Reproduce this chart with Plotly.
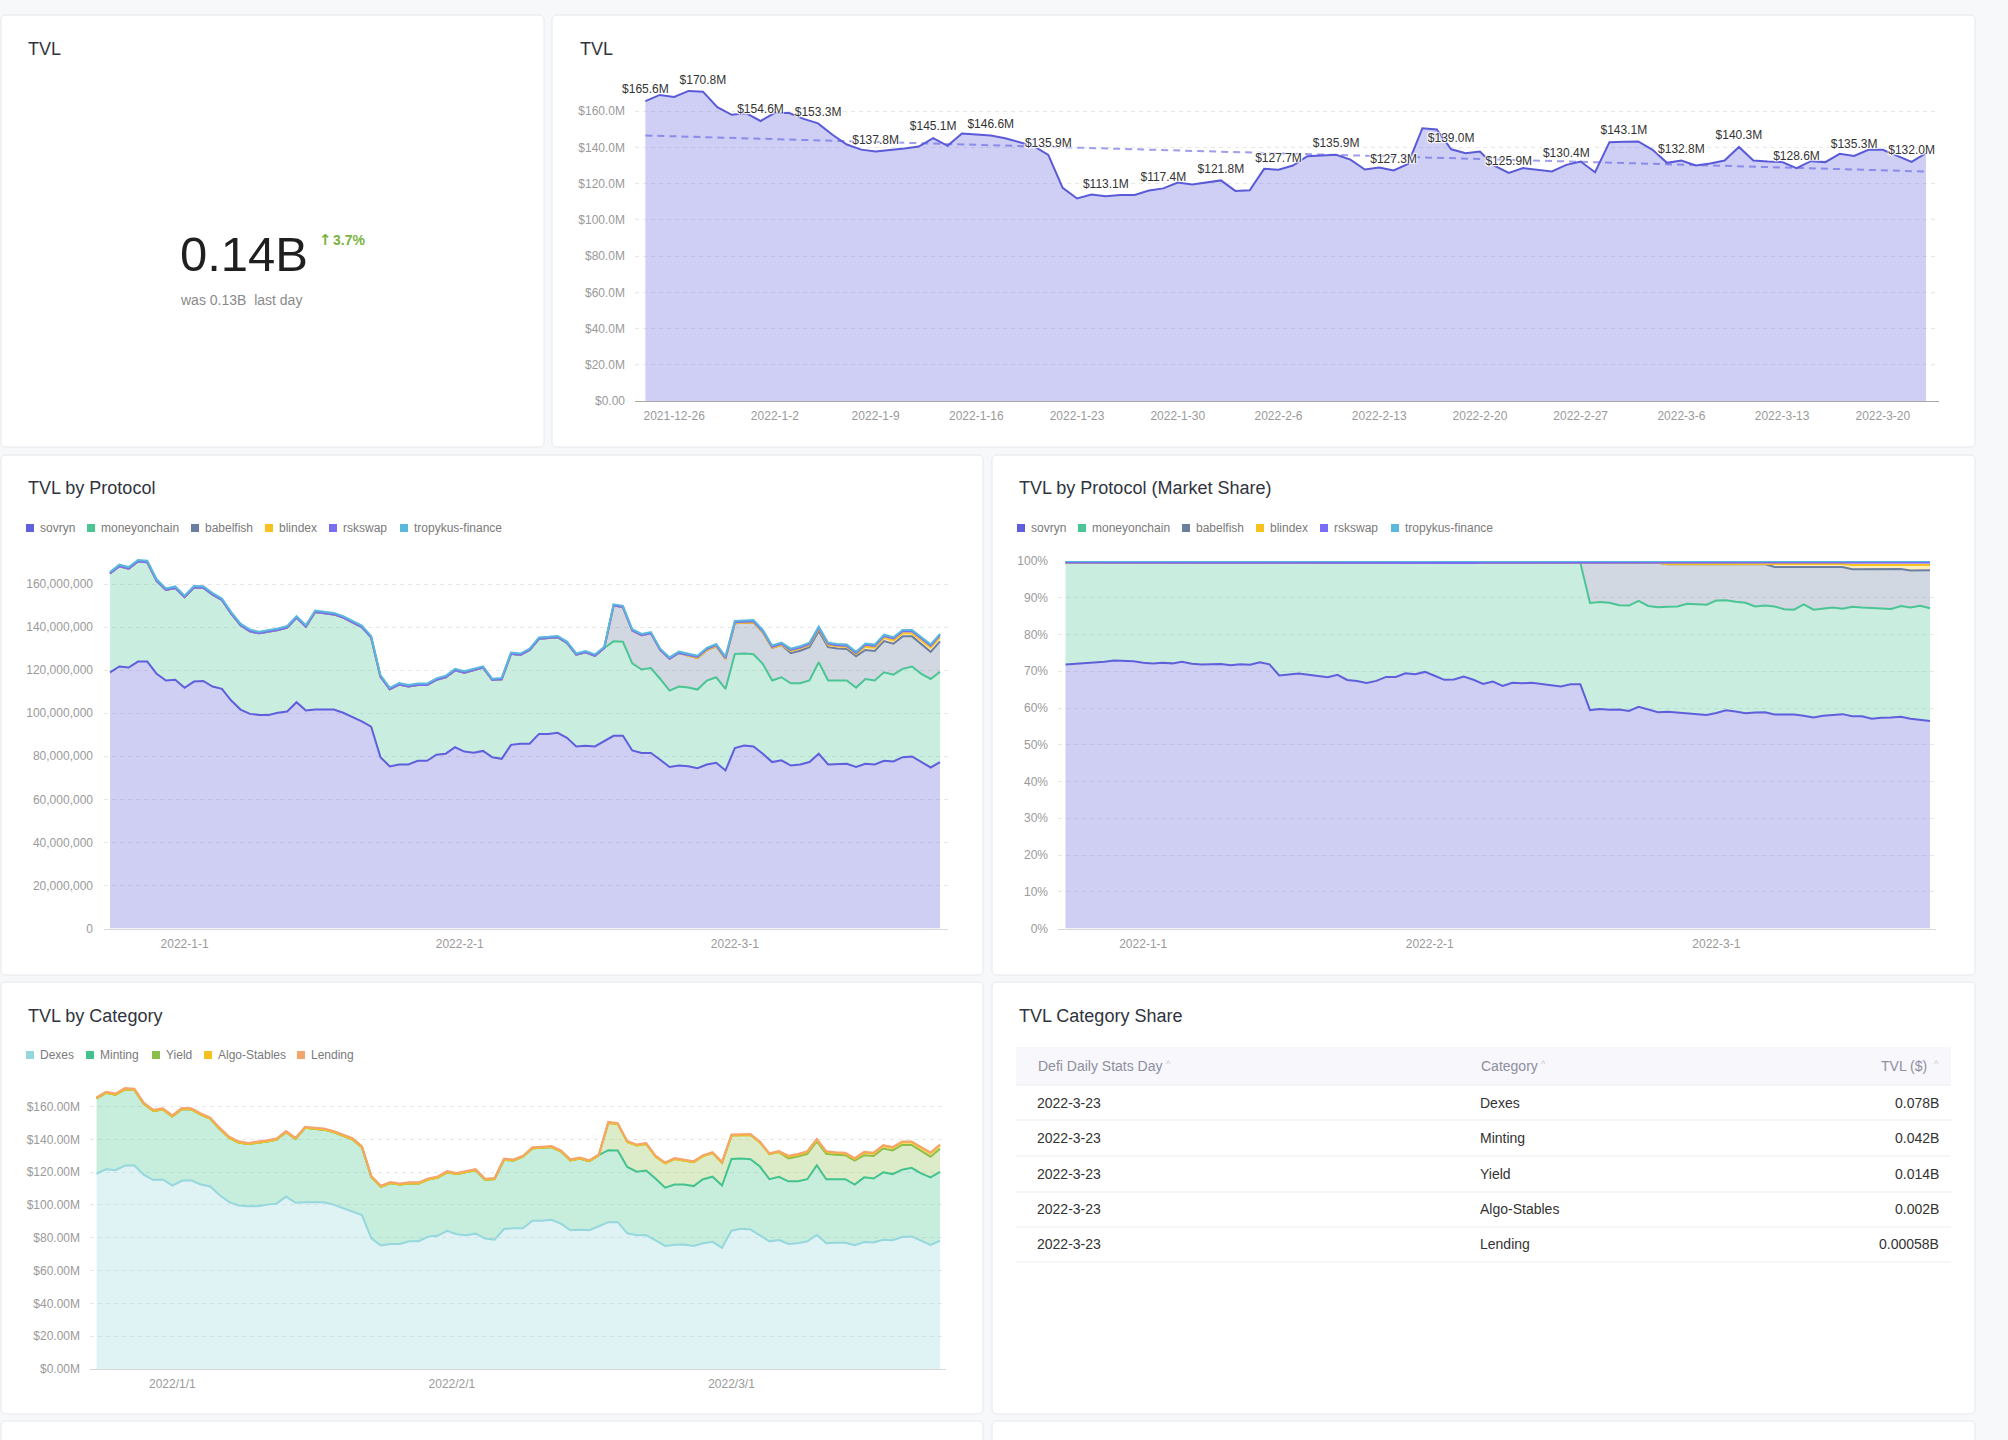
import numpy as np
import pandas as pd
import plotly.graph_objects as go

W, H = 2008, 1440
FONT = "Liberation Sans, Arial, Helvetica, sans-serif"

# ---------------- data ----------------
dates = pd.date_range("2021-12-24", "2022-03-23", freq="D")

# total TVL in $M (Dec 24 .. Mar 23)
tvl_total = [
    165.6, 169.0, 167.9, 171.2, 170.8, 162.2, 158.0, 158.9,
    154.6, 159.1, 159.0, 155.8, 153.3, 147.0, 141.6, 138.8, 137.8, 138.5,
    139.4, 140.5, 145.1, 140.9, 147.7, 147.1, 146.6, 145.1, 142.9, 140.7,
    135.9, 117.7, 111.8, 114.0, 113.1, 113.8, 113.8, 116.2, 117.4, 120.6, 119.5,
    120.6, 121.8, 116.0, 116.4, 128.2, 127.7, 130.0, 135.2, 135.5, 135.9,
    133.3, 127.8, 128.9, 127.3, 130.9, 150.6, 149.9, 139.0, 136.8, 137.7,
    130.0, 125.9, 128.6, 127.8, 126.7, 130.4, 132.2, 126.3,
    142.9, 143.1, 143.3, 138.7, 131.5, 132.8, 130.0, 131.1, 132.8, 140.3,
    132.8, 132.2, 131.9, 128.6, 132.4, 131.9, 136.5, 135.3, 138.7, 138.7,
    135.5, 132.0, 136.9,
]
trend_values = [146.6, 126.7]   # dashed trend line, first and last day

protocol_names = ["sovryn", "moneyonchain", "babelfish", "blindex", "rskswap", "tropykus-finance"]
sovryn = [
    119.0, 121.7, 121.2, 124.0, 124.0, 118.3, 115.2, 115.5,
    111.8, 114.7, 115.0, 112.4, 111.3, 105.9, 101.7, 99.7, 99.2, 99.2,
    100.2, 100.8, 105.1, 101.3, 101.7, 101.7, 101.7, 100.2, 98.2, 96.2,
    93.8, 79.6, 75.3, 76.2, 76.2, 77.9, 77.9, 80.7, 81.2, 84.2, 82.2,
    81.6, 82.5, 79.5, 78.8, 85.3, 85.8, 85.8, 90.4, 90.4, 90.9,
    88.6, 84.6, 84.9, 84.6, 87.0, 89.5, 89.5, 82.7, 81.5, 81.5,
    78.4, 75.0, 75.7, 75.4, 74.5, 76.2, 77.0, 73.4,
    83.8, 85.0, 84.6, 81.2, 77.3, 78.1, 75.7, 76.2, 77.3, 81.2,
    76.2, 76.5, 76.5, 75.0, 76.5, 76.2, 77.9, 77.6, 79.6, 79.9,
    77.3, 74.8, 77.3,
]
moneyonchain = [
    45.9, 46.6, 46.0, 46.5, 46.1, 43.2, 42.1, 42.7,
    42.1, 43.7, 43.3, 42.7, 41.3, 40.4, 39.2, 38.4, 37.9, 38.6,
    38.5, 39.0, 39.3, 38.9, 45.3, 44.7, 44.2, 44.2, 44.0, 43.8,
    41.4, 37.4, 35.8, 37.1, 36.2, 35.2, 35.2, 34.8, 35.5, 35.7, 36.6,
    38.4, 38.7, 35.9, 37.0, 42.3, 41.3, 43.6, 44.2, 44.5, 44.4,
    44.1, 42.6, 43.4, 42.1, 43.3, 43.9, 43.7, 40.5, 38.8, 39.5,
    37.5, 35.5, 36.7, 36.5, 36.5, 39.0, 39.7, 37.9,
    43.7, 42.8, 42.8, 41.7, 37.9, 38.6, 38.2, 37.7, 37.9, 42.5,
    39.0, 38.7, 38.7, 36.9, 39.4, 39.0, 41.1, 40.3, 41.0, 41.8,
    41.0, 41.1, 42.0,
]
babelfish = [
    0.0, 0.0, 0.0, 0.0, 0.0, 0.0, 0.0, 0.0, 0.0, 0.0,
    0.0, 0.0, 0.0, 0.0, 0.0, 0.0, 0.0, 0.0, 0.0, 0.0,
    0.0, 0.0, 0.0, 0.0, 0.0, 0.0, 0.0, 0.0, 0.0, 0.0,
    0.0, 0.0, 0.0, 0.0, 0.0, 0.0, 0.0, 0.0, 0.0, 0.0,
    0.0, 0.0, 0.0, 0.0, 0.0, 0.0, 0.0, 0.0, 0.0, 0.0,
    0.0, 0.0, 0.0, 0.0, 16.6, 16.1, 15.2, 15.9, 16.1, 13.5,
    14.8, 15.6, 14.8, 14.6, 14.1, 14.4, 13.9, 14.3, 14.2, 14.8,
    14.7, 15.2, 15.0, 14.0, 15.1, 15.5, 14.5, 15.5, 14.9, 14.6,
    14.6, 13.5, 13.7, 14.5, 14.4, 15.1, 14.0, 13.7, 12.6, 14.1,
]
blindex = [
    0.0, 0.0, 0.0, 0.0, 0.0, 0.0, 0.0, 0.0, 0.0, 0.0,
    0.0, 0.0, 0.0, 0.0, 0.0, 0.0, 0.0, 0.0, 0.0, 0.0,
    0.0, 0.0, 0.0, 0.0, 0.0, 0.0, 0.0, 0.0, 0.0, 0.0,
    0.0, 0.0, 0.0, 0.0, 0.0, 0.0, 0.0, 0.0, 0.0, 0.0,
    0.0, 0.0, 0.0, 0.0, 0.0, 0.0, 0.0, 0.0, 0.0, 0.0,
    0.0, 0.0, 0.0, 0.0, 0.0, 0.0, 0.0, 0.0, 0.0, 0.0,
    0.0, 0.0, 0.0, 0.0, 0.0, 0.0, 0.0, 0.0, 0.0, 0.0,
    0.0, 0.0, 0.0, 1.0, 1.0, 1.0, 1.0, 1.0, 1.0, 1.0,
    1.0, 1.5, 1.5, 1.5, 1.5, 1.5, 1.5, 2.0, 2.0, 2.0,
]
rskswap = [
    0.0, 0.0, 0.0, 0.0, 0.0, 0.0, 0.0, 0.0, 0.0, 0.0,
    0.0, 0.0, 0.0, 0.0, 0.0, 0.0, 0.0, 0.0, 0.0, 0.0,
    0.0, 0.0, 0.0, 0.0, 0.0, 0.0, 0.0, 0.0, 0.0, 0.0,
    0.0, 0.0, 0.0, 0.0, 0.0, 0.0, 0.0, 0.0, 0.0, 0.0,
    0.0, 0.0, 0.0, 0.0, 0.0, 0.0, 0.0, 0.0, 0.0, 0.0,
    0.0, 0.0, 0.0, 0.0, 0.0, 0.0, 0.0, 0.0, 0.0, 0.0,
    0.0, 0.0, 0.5, 0.5, 0.5, 0.5, 0.5, 0.5, 0.5, 0.5,
    0.5, 0.5, 0.5, 0.5, 0.5, 0.5, 0.5, 0.5, 0.5, 0.5,
    0.5, 0.9, 0.9, 0.9, 0.9, 0.9, 0.9, 0.9, 0.9, 0.9,
]
tropykus = [
    0.7, 0.7, 0.7, 0.7, 0.7, 0.7, 0.7, 0.7, 0.7, 0.7,
    0.7, 0.7, 0.7, 0.7, 0.7, 0.7, 0.7, 0.7, 0.7, 0.7,
    0.7, 0.7, 0.7, 0.7, 0.7, 0.7, 0.7, 0.7, 0.7, 0.7,
    0.7, 0.7, 0.7, 0.7, 0.7, 0.7, 0.7, 0.7, 0.7, 0.6,
    0.6, 0.6, 0.6, 0.6, 0.6, 0.6, 0.6, 0.6, 0.6, 0.6,
    0.6, 0.6, 0.6, 0.6, 0.6, 0.6, 0.6, 0.6, 0.6, 0.6,
    0.6, 0.6, 0.6, 0.6, 0.6, 0.6, 0.6, 0.58, 0.58, 0.58,
    0.58, 0.58, 0.58, 0.58, 0.58, 0.58, 0.58, 0.58, 0.58, 0.58,
    0.58, 0.58, 0.58, 0.58, 0.58, 0.58, 0.58, 0.58, 0.58, 0.58,
]
protocol_values = [sovryn, moneyonchain, babelfish, blindex, rskswap, tropykus]

category_names = ["Dexes", "Minting", "Yield", "Algo-Stables", "Lending"]
category_of = {"sovryn": "Dexes", "rskswap": "Dexes", "moneyonchain": "Minting",
               "babelfish": "Yield", "blindex": "Algo-Stables", "tropykus-finance": "Lending"}

tvl_week_ticks = pd.date_range("2021-12-26", "2022-03-20", freq="7D")
month_tick_pos = ["2022-01-01", "2022-01-30 12:00", "2022-03-01"]
month_tick_text = ["2022-1-1", "2022-2-1", "2022-3-1"]
month_tick_text_cat = ["2022/1/1", "2022/2/1", "2022/3/1"]

for arr in [tvl_total] + protocol_values:
    assert len(arr) == len(dates)

category_values = {c: np.zeros(len(dates)) for c in category_names}
for n, v in zip(protocol_names, protocol_values):
    category_values[category_of[n]] += np.array(v)

# ---------------- styles ----------------
protocol_colors = ["#5F5FDC", "#4CC594", "#6B7FA0", "#F7C122", "#7B6CF6", "#5BB8DD"]
category_colors = ["#96D7DD", "#44C28E", "#8BBF4A", "#F6C11E", "#F4A56E"]


def rgba(hex_color, a):
    h = hex_color.lstrip("#")
    r, g, b = int(h[0:2], 16), int(h[2:4], 16), int(h[4:6], 16)
    return f"rgba({r},{g},{b},{a})"


def P(x):
    return x / W


def Q(y):
    return 1 - y / H


shapes = []
annotations = []


def card(x0, y0, x1, y1, r=5):
    X0, X1, Y0, Y1 = P(x0), P(x1), Q(y0), Q(y1)
    rx, ry = r / W, r / H
    path = (f"M{X0+rx},{Y0} L{X1-rx},{Y0} Q{X1},{Y0} {X1},{Y0-ry} "
            f"L{X1},{Y1+ry} Q{X1},{Y1} {X1-rx},{Y1} L{X0+rx},{Y1} Q{X0},{Y1} {X0},{Y1+ry} "
            f"L{X0},{Y0-ry} Q{X0},{Y0} {X0+rx},{Y0} Z")
    shapes.append(dict(type="path", xref="paper", yref="paper", path=path,
                       fillcolor="white", line=dict(color="#E7E8EC", width=1), layer="below"))


def text(x, y, s, size, color, xanchor="left", yanchor="middle", family=FONT):
    annotations.append(dict(x=P(x), y=Q(y), xref="paper", yref="paper", text=s, showarrow=False,
                            xanchor=xanchor, yanchor=yanchor, borderpad=0,
                            font=dict(size=size, color=color, family=family)))


def legend(names, colors, xs, y):
    for n, c, x in zip(names, colors, xs):
        shapes.append(dict(type="rect", xref="paper", yref="paper", x0=P(x), x1=P(x + 8),
                           y0=Q(y + 4), y1=Q(y - 4), fillcolor=c, line=dict(width=0)))
        text(x + 13, y, n, 12, "#7A7A7A")


# cards
card(1, 15, 544, 447)
card(552, 15, 1975, 447)
card(1, 455, 983, 975)
card(992, 455, 1975, 975)
card(1, 982, 983, 1414)
card(992, 982, 1975, 1414)
card(1, 1421, 983, 1480)
card(992, 1421, 1975, 1480)

TITLE = "#30343E"
text(27, 49, "TVL", 18, TITLE)
text(579, 49, "TVL", 18, TITLE)
text(27, 488, "TVL by Protocol", 18, TITLE)
text(1018, 488, "TVL by Protocol (Market Share)", 18, TITLE)
text(27, 1016, "TVL by Category", 18, TITLE)
text(1018, 1016, "TVL Category Share", 18, TITLE)

# big number card
now_v, prev_v = tvl_total[-1] / 1000, tvl_total[-2] / 1000
pct = (tvl_total[-1] / tvl_total[-2] - 1) * 100
text(179, 254, f"{now_v:.2f}B", 49, "#1F1F1F")
text(318, 240, "<b>↑</b>", 15, "#7CB342", family="DejaVu Sans")
text(332, 240, f"<b>{pct:.1f}%</b>", 14, "#7CB342")
text(179, 300, f"was {prev_v:.2f}B&nbsp; last day", 14, "#8A8A8A")

# legends
legend(protocol_names, protocol_colors, [26, 87, 191, 265, 329, 400], 528)
legend(protocol_names, protocol_colors, [1017, 1078, 1182, 1256, 1320, 1391], 528)
legend(category_names, category_colors, [26, 86, 152, 204, 297], 1055)

# ---------------- table ----------------
table_day = [dates[-1]] * len(category_names)
table_cat = category_names
table_tvl = [category_values[c][-1] / 1000 for c in category_names]

shapes.append(dict(type="rect", xref="paper", yref="paper", x0=P(1016), x1=P(1951),
                   y0=Q(1085), y1=Q(1047), fillcolor="#F7F7FC", line=dict(width=0)))
shapes.append(dict(type="line", xref="paper", yref="paper", x0=P(1016), x1=P(1951),
                   y0=Q(1085), y1=Q(1085), line=dict(color="#ECECF2", width=1)))
HDR = "#8E8E9E"
text(1037, 1066, "Defi Daily Stats Day", 14, HDR)
text(1165, 1064, "^", 9, "#C8C8D0")
text(1480, 1066, "Category", 14, HDR)
text(1540, 1064, "^", 9, "#C8C8D0")
text(1928, 1066, "TVL ($)", 14, HDR, xanchor="right")
text(1933, 1064, "^", 9, "#C8C8D0")
row_y = [1103, 1138, 1174, 1209, 1244]
sep_y = [1120, 1156, 1192, 1227, 1262]
for d, c, v, ry, sy in zip(table_day, table_cat, table_tvl, row_y, sep_y):
    text(1036, ry, f"{d.year}-{d.month}-{d.day}", 14, "#333333")
    text(1479, ry, c, 14, "#333333")
    text(1940, ry, f"{v:.2g}B", 14, "#333333", xanchor="right")
    shapes.append(dict(type="line", xref="paper", yref="paper", x0=P(1016), x1=P(1951),
                       y0=Q(sy), y1=Q(sy), line=dict(color="#EDEDF2", width=1)))

# ---------------- traces ----------------
fig = go.Figure()

# TVL card
fig.add_trace(go.Scatter(x=[dates[0], dates[-1]], y=trend_values, mode="lines",
                         line=dict(color="#9E9EEC", width=2, dash="7px,5px"),
                         xaxis="x", yaxis="y", hoverinfo="skip"))
fig.add_trace(go.Scatter(x=dates, y=tvl_total, mode="lines", fill="tozeroy",
                         line=dict(color="#5A5AD8", width=2), fillcolor=rgba("#6060DD", 0.3),
                         xaxis="x", yaxis="y"))
lab_idx = list(range(0, len(dates), 4))
fig.add_trace(go.Scatter(x=[dates[i] for i in lab_idx], y=[tvl_total[i] for i in lab_idx],
                         mode="markers+text", text=[f"${tvl_total[i]:.1f}M" for i in lab_idx],
                         marker=dict(size=6, color="rgba(0,0,0,0)"),
                         textposition="top center", cliponaxis=False,
                         textfont=dict(size=12, color="#333333", family=FONT,
                                       shadow="1px 1px 1px #fff, -1px -1px 1px #fff, 1px -1px 1px #fff, -1px 1px 1px #fff"),
                         xaxis="x", yaxis="y", hoverinfo="skip"))

# TVL by protocol (stacked) and market share
for n, v, c in zip(protocol_names, protocol_values, protocol_colors):
    fig.add_trace(go.Scatter(x=dates, y=v, name=n, mode="lines", stackgroup="prot",
                             line=dict(color=c, width=2), fillcolor=rgba(c, 0.3),
                             xaxis="x2", yaxis="y2"))
for n, v, c in zip(protocol_names, protocol_values, protocol_colors):
    fig.add_trace(go.Scatter(x=dates, y=v, name=n, mode="lines", stackgroup="share",
                             groupnorm="percent",
                             line=dict(color=c, width=2), fillcolor=rgba(c, 0.3),
                             xaxis="x3", yaxis="y3"))
# TVL by category
for n, c in zip(category_names, category_colors):
    fig.add_trace(go.Scatter(x=dates, y=category_values[n], name=n, mode="lines", stackgroup="cat",
                             line=dict(color=c, width=2), fillcolor=rgba(c, 0.3),
                             xaxis="x4", yaxis="y4"))

TICKF = dict(size=12, color="#9A9A9A", family=FONT)


def xax(d0, d1, rng, tv, tt, anchor, linecolor="#D9D9D9"):
    return dict(domain=[P(d0), P(d1)], range=rng, type="date", tickvals=tv, ticktext=tt,
                showgrid=False, zeroline=False, showline=True, linecolor=linecolor, linewidth=1,
                ticks="", tickfont=TICKF, anchor=anchor, fixedrange=True, ticklabelstandoff=4,
                automargin=False)


def yax(top, bottom, rng, tv, tt, anchor, standoff=8):
    return dict(domain=[Q(bottom), Q(top)], range=rng, tickvals=tv, ticktext=tt,
                showgrid=True, gridcolor="#E8E8E8", griddash="4px,4px", gridwidth=1,
                zeroline=False, showline=False, ticks="", tickfont=TICKF, anchor=anchor,
                fixedrange=True, ticklabelstandoff=standoff, automargin=False)


m_ticks = [0, 20, 40, 60, 80, 100, 120, 140, 160]
pct_ticks = [0, 10, 20, 30, 40, 50, 60, 70, 80, 90, 100]

fig.update_layout(
    width=W, height=H, margin=dict(l=0, r=0, t=0, b=0, pad=0, autoexpand=False),
    paper_bgcolor="#F7F8FA", plot_bgcolor="rgba(0,0,0,0)",
    showlegend=False, font=dict(family=FONT),
    shapes=shapes, annotations=annotations,
    xaxis=xax(635, 1939, ["2021-12-23 06:40", "2022-03-23 21:40"], list(tvl_week_ticks),
              [f"{d.year}-{d.month}-{d.day}" for d in tvl_week_ticks], "y", linecolor="#A8A8A8"),
    yaxis=yax(75, 401, [0, 180], m_ticks,
              ["$0.00"] + [f"${v:.1f}M" for v in m_ticks[1:]], "x", standoff=9),
    xaxis2=xax(104, 948, ["2021-12-23 08:34", "2022-03-23 20:36"], month_tick_pos, month_tick_text, "y2"),
    yaxis2=yax(541, 928.5, [0, 180], m_ticks, [f"{int(v*1e6):,}" for v in m_ticks], "x2", standoff=10),
    xaxis3=xax(1058, 1936, ["2021-12-23 05:28", "2022-03-23 14:50"], month_tick_pos, month_tick_text, "y3"),
    yaxis3=yax(561, 928.5, [0, 100], pct_ticks, [f"{v}%" for v in pct_ticks], "x3", standoff=9),
    xaxis4=xax(90, 946, ["2021-12-23 07:30", "2022-03-23 15:12"], month_tick_pos, month_tick_text_cat, "y4"),
    yaxis4=yax(1073.7, 1369, [0, 180], m_ticks, [f"${v:.2f}M" for v in m_ticks], "x4", standoff=9),
)

fig.write_html("out.html", config={"displayModeBar": False},
               post_script="document.body.style.margin='0';document.body.style.overflow='hidden';")
